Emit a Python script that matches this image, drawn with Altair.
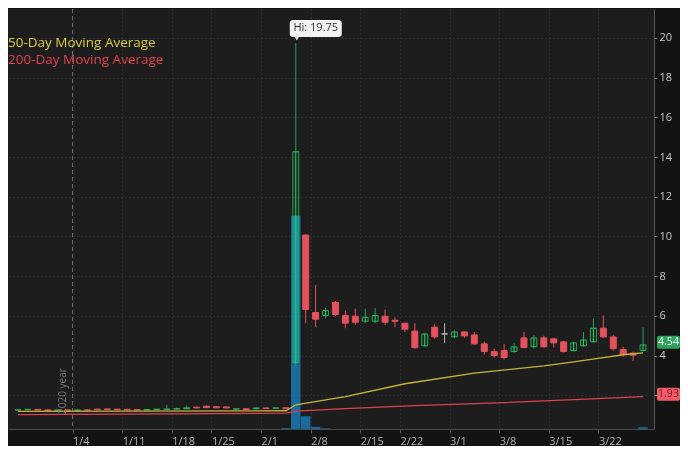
import altair as alt
import pandas as pd

# ---------------- data ----------------
dates = ["12/23", "12/24", "12/28", "12/29", "12/30", "12/31",
         "1/4", "1/5", "1/6", "1/7", "1/8", "1/11", "1/12", "1/13", "1/14", "1/15",
         "1/19", "1/20", "1/21", "1/22", "1/25", "1/26", "1/27", "1/28", "1/29",
         "2/1", "2/2", "2/3", "2/4", "2/5", "2/8", "2/9", "2/10", "2/11", "2/12",
         "2/16", "2/17", "2/18", "2/19", "2/22", "2/23", "2/24", "2/25", "2/26",
         "3/1", "3/2", "3/3", "3/4", "3/5", "3/8", "3/9", "3/10", "3/11", "3/12",
         "3/15", "3/16", "3/17", "3/18", "3/19", "3/22", "3/23", "3/24", "3/25", "3/26"]
first_day = -6  # trading-day index of the first candle (1/4 is day 0)

opens = [1.25, 1.27, 1.29, 1.26, 1.24, 1.26,
         1.23, 1.26, 1.30, 1.31, 1.30, 1.29, 1.28, 1.26, 1.27, 1.29,
         1.30, 1.32, 1.40, 1.45, 1.42, 1.41, 1.30, 1.32, 1.32,
         1.36, 1.34, 1.37, 3.65, 10.07, 6.17, 6.02, 6.67, 6.02, 5.98,
         5.73, 5.73, 5.98, 5.78, 5.63, 5.23, 4.49, 5.43, 5.09,
         4.94, 5.19, 5.04, 4.59, 4.20, 4.25, 4.20, 4.89, 4.44, 4.89,
         4.84, 4.69, 4.25, 4.49, 4.69, 5.38, 4.94, 4.30, 4.12, 4.25]
highs = [1.28, 1.30, 1.30, 1.28, 1.28, 1.28,
         1.27, 1.28, 1.32, 1.32, 1.31, 1.30, 1.30, 1.29, 1.32, 1.50,
         1.38, 1.48, 1.42, 1.48, 1.44, 1.43, 1.33, 1.34, 1.40,
         1.38, 1.38, 1.39, 19.75, 10.10, 7.55, 6.42, 6.75, 6.27, 6.37,
         6.37, 6.40, 6.32, 5.93, 5.65, 5.63, 5.15, 5.58, 5.63,
         5.28, 5.20, 5.19, 4.69, 4.35, 4.59, 4.64, 5.19, 5.04, 5.00,
         4.86, 4.74, 4.70, 5.19, 5.88, 6.02, 5.04, 4.44, 4.20, 5.43]
lows = [1.22, 1.25, 1.24, 1.22, 1.22, 1.22,
        1.21, 1.23, 1.25, 1.26, 1.25, 1.24, 1.24, 1.24, 1.26, 1.27,
        1.28, 1.30, 1.34, 1.35, 1.35, 1.34, 1.28, 1.26, 1.30,
        1.31, 1.32, 1.31, 3.50, 5.63, 5.43, 5.88, 6.00, 5.38, 5.53,
        5.63, 5.63, 5.53, 5.43, 5.19, 4.35, 4.45, 4.84, 4.64,
        4.89, 4.89, 4.54, 4.05, 3.90, 3.80, 4.15, 4.40, 4.35, 4.40,
        4.40, 4.15, 4.20, 4.44, 4.65, 4.89, 4.25, 3.95, 3.72, 4.20]
closes = [1.27, 1.29, 1.26, 1.24, 1.26, 1.23,
          1.26, 1.25, 1.27, 1.28, 1.27, 1.26, 1.26, 1.28, 1.30, 1.31,
          1.33, 1.37, 1.36, 1.38, 1.37, 1.36, 1.32, 1.28, 1.36,
          1.33, 1.37, 1.33, 14.27, 6.32, 5.83, 6.27, 6.07, 5.63, 5.68,
          5.93, 6.02, 5.68, 5.73, 5.33, 4.40, 5.09, 4.94, 5.09,
          5.19, 4.99, 4.59, 4.20, 4.00, 3.90, 4.44, 4.40, 4.89, 4.44,
          4.64, 4.20, 4.64, 4.79, 5.38, 4.94, 4.35, 4.05, 4.02, 4.54]
volumes = [0, 0, 0, 0, 0, 0,
           0, 0, 0, 0, 0, 0, 0, 0, 0, 0,
           0, 0, 0, 0, 0, 0, 0, 0, 0,
           0, 0, 0.4, 100, 6.0, 1.0, 0.3, 0, 0, 0,
           0, 0, 0, 0, 0, 0, 0, 0, 0,
           0, 0, 0, 0, 0, 0, 0, 0, 0, 0,
           0, 0, 0, 0, 0, 0, 0, 0, 0, 0.8]

ma50_days = [-6, 21, 22, 27, 33, 40, 47, 50, 53, 55, 57]
ma50_vals = [1.19, 1.22, 1.52, 1.93, 2.58, 3.11, 3.48, 3.68, 3.90, 4.04, 4.14]
ma200_days = [-6, 21, 22, 27, 34, 43, 50, 57]
ma200_vals = [1.02, 1.10, 1.20, 1.33, 1.48, 1.63, 1.78, 1.93]

tick_days = [0, 5, 10, 14, 19, 24, 29, 33, 38, 43, 48, 53]
tick_labels = ["1/4", "1/11", "1/18", "1/25", "2/1", "2/8", "2/15", "2/22",
               "3/1", "3/8", "3/15", "3/22"]
price_ticks = [2, 4, 6, 8, 10, 12, 14, 16, 18, 20]
legend_labels = ["50-Day Moving Average", "200-Day Moving Average"]
year_label = "2020 year"
year_day = 0
hi_day = 22
hi_value = 19.75
last_close = 4.54
last_ma200 = 1.93

# ---------------- styling ----------------
FONT = "Open Sans"
BG = "#1d1d1d"
GREEN = "#27a05c"
RED = "#e4525d"
GRAY = "#b8b8b8"
VOL = "#1b6a9c"
MA50 = "#c8b437"
MA200 = "#d94450"

n = len(dates)
df = pd.DataFrame({
    "day": list(range(first_day, first_day + n)),
    "date": dates, "open": opens, "high": highs, "low": lows,
    "close": closes, "volume": volumes,
})
df["dir"] = ["up" if c > o else ("down" if c < o else "flat") for o, c in zip(opens, closes)]

xscale = alt.Scale(domain=[-6.0, 58.1], nice=False, zero=False)
yscale = alt.Scale(domain=[0.3, 21.46], nice=False, zero=False)
dirs = ["up", "down", "flat"]

label_expr = ("[" + ",".join("'%s'" % t for t in tick_labels) + "][indexof(["
              + ",".join(str(d) for d in tick_days) + "], datum.value)]")

xaxis = alt.Axis(values=tick_days, labelExpr=label_expr, grid=True, gridDash=[1, 3],
                 gridColor="#3d3d3d", domainColor="#4a4a4a", tickColor="#5a5a5a",
                 tickSize=4, labelAlign="left", labelColor="#b0b0b0", labelFontSize=11,
                 labelFont=FONT, labelPadding=2, title=None)
yaxis = alt.Axis(orient="right", values=price_ticks,
                 labelExpr="datum.value == 2 ? '' : datum.value", grid=True,
                 gridDash=[1, 3], gridColor="#3d3d3d", domainColor="#555555",
                 tickColor="#777777", tickSize=3, labelColor="#c8c8c8", labelFontSize=11,
                 labelFont=FONT, labelPadding=2, title=None)

X = alt.X("xc:Q", scale=xscale, axis=xaxis)


def Y(field):
    return alt.Y(field, scale=yscale, axis=yaxis)


base = alt.Chart(df).transform_calculate(xc="datum.day + 0.5")

# volume (own y scale)
volume = base.mark_bar(size=9.5, color=VOL).encode(
    x=X,
    y=alt.Y("volume:Q", scale=alt.Scale(domain=[0, 197], nice=False), axis=None),
)

wicks = base.mark_rule(strokeWidth=1).encode(
    x=X, y=Y("low:Q"), y2="high:Q",
    color=alt.Color("dir:N", scale=alt.Scale(domain=dirs, range=[GREEN, RED, GRAY]), legend=None),
)

bodies = base.mark_bar(size=6, strokeWidth=1).encode(
    x=X, y=Y("open:Q"), y2="close:Q",
    fill=alt.Fill("dir:N", scale=alt.Scale(domain=dirs, range=["transparent", RED, GRAY]), legend=None),
    stroke=alt.Stroke("dir:N", scale=alt.Scale(domain=dirs, range=[GREEN, RED, GRAY]), legend=None),
)

tint = base.transform_filter("datum.close > datum.open").mark_bar(
    size=5, fill="#004212", blend="color-dodge").encode(
    x=X, y=Y("open:Q"), y2="close:Q",
)

ma50_df = pd.DataFrame({"day": ma50_days, "v": ma50_vals})
ma200_df = pd.DataFrame({"day": ma200_days, "v": ma200_vals})

ma50 = alt.Chart(ma50_df).transform_calculate(xc="datum.day + 0.5").mark_line(
    color=MA50, strokeWidth=1.3).encode(x=X, y=Y("v:Q"))
ma200 = alt.Chart(ma200_df).transform_calculate(xc="datum.day + 0.5").mark_line(
    color=MA200, strokeWidth=1.3).encode(x=X, y=Y("v:Q"))

year_df = pd.DataFrame({"day": [year_day], "t": [year_label]})
year_rule = alt.Chart(year_df).transform_calculate(xc="datum.day").mark_rule(
    color="#707070", strokeDash=[4, 3], strokeWidth=1).encode(x=X)
year_text = alt.Chart(year_df).transform_calculate(xc="datum.day").mark_text(
    angle=270, color="#7a7a7a", fontSize=10, font=FONT, xOffset=-10).encode(
    x=X, y=alt.value(382), text="t:N")

hi_df = pd.DataFrame({"day": [hi_day], "v": [hi_value], "t": ["Hi: %.2f" % hi_value]})
hi_box = alt.Chart(hi_df).transform_calculate(xc="datum.day + 0.5").mark_rect(
    fill="#f2f2f2", cornerRadius=3, xOffset=-6, x2Offset=46, yOffset=-23, y2Offset=-6).encode(
    x=X, x2="xc:Q", y=Y("v:Q"), y2="v:Q")
hi_tail = alt.Chart(hi_df).transform_calculate(xc="datum.day + 0.5").mark_point(
    shape="triangle-down", filled=True, fill="#f2f2f2", stroke=None, opacity=1,
    size=22, xOffset=1, yOffset=-4.5).encode(x=X, y=Y("v:Q"))
hi_text = alt.Chart(hi_df).transform_calculate(xc="datum.day + 0.5").mark_text(
    color="#333333", fontSize=11, font=FONT, xOffset=20, yOffset=-14.5).encode(
    x=X, y=Y("v:Q"), text="t:N")

badge_df = pd.DataFrame({"v": [last_close, last_ma200],
                         "t": ["%.2f" % last_close, "%.2f" % last_ma200],
                         "k": ["close", "ma200"]})
badge_box = alt.Chart(badge_df).mark_rect(cornerRadius=2, yOffset=-9, y2Offset=4).encode(
    x=alt.value(649), x2=alt.value(672),
    y=Y("v:Q"), y2="v:Q",
    fill=alt.Fill("k:N", scale=alt.Scale(domain=["close", "ma200"], range=["#2aa458", "#ef5b67"]), legend=None),
)
badge_text = alt.Chart(badge_df).mark_text(fontSize=10.5, font=FONT, yOffset=-2.5).encode(
    x=alt.value(660.5),
    y=Y("v:Q"),
    text="t:N",
    color=alt.Color("k:N", scale=alt.Scale(domain=["close", "ma200"], range=["#ffffff", "#7a1520"]), legend=None),
)

leg_df = pd.DataFrame({"t": legend_labels})
leg50 = alt.Chart(leg_df.iloc[[0]]).mark_text(align="left", baseline="middle", fontSize=13.5,
                                              font=FONT, color="#dccd3e").encode(
    x=alt.value(0), y=alt.value(34), text="t:N")
leg200 = alt.Chart(leg_df.iloc[[1]]).mark_text(align="left", baseline="middle", fontSize=13.5,
                                               font=FONT, color="#e2404f").encode(
    x=alt.value(0), y=alt.value(51), text="t:N")

price = alt.layer(wicks, year_rule, bodies, tint, ma200, ma50, year_text,
                  hi_tail, hi_box, hi_text, badge_box, badge_text, leg50, leg200
                  ).resolve_scale(color="independent", fill="independent")

chart = alt.layer(volume, price).resolve_scale(
    y="independent", color="independent", fill="independent"
).properties(
    width=646, height=420, padding=0, background="#131313"
).configure_view(fill=BG, stroke=None)

chart.save("out.html", embed_options={"renderer": "svg", "actions": False})
